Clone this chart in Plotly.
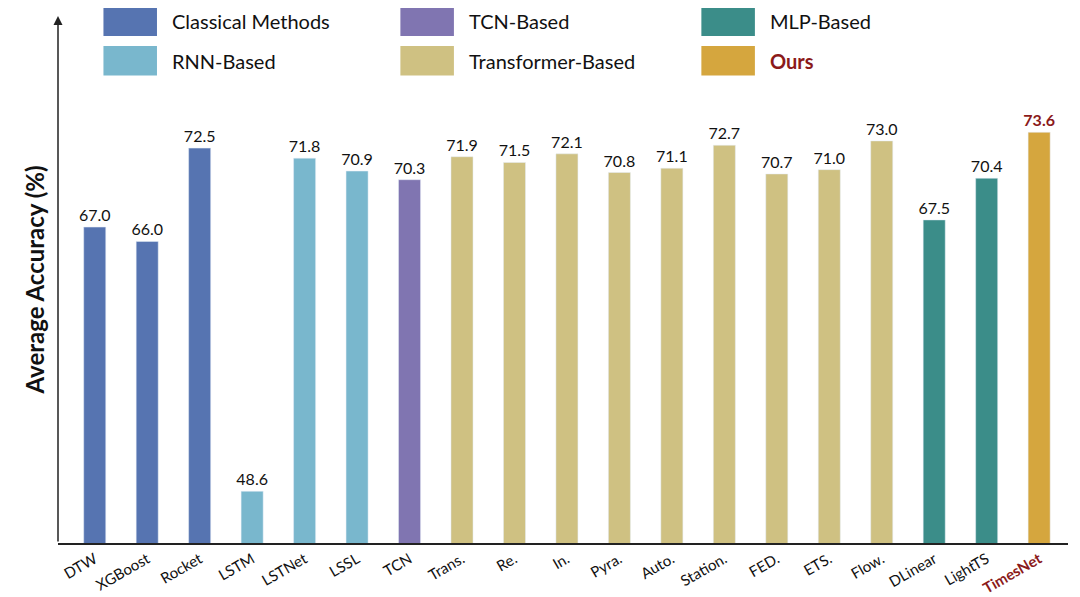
import plotly.graph_objects as go

models = ["DTW", "XGBoost", "Rocket", "LSTM", "LSTNet", "LSSL", "TCN", "Trans.", "Re.", "In.",
          "Pyra.", "Auto.", "Station.", "FED.", "ETS.", "Flow.", "DLinear", "LightTS", "TimesNet"]
accuracy = [67.0, 66.0, 72.5, 48.6, 71.8, 70.9, 70.3, 71.9, 71.5, 72.1,
            70.8, 71.1, 72.7, 70.7, 71.0, 73.0, 67.5, 70.4, 73.6]
groups = ["Classical Methods"] * 3 + ["RNN-Based"] * 3 + ["TCN-Based"] + ["Transformer-Based"] * 9 + ["MLP-Based"] * 2 + ["Ours"]

colors = {"Classical Methods": "#5674b1", "RNN-Based": "#79b7cd", "TCN-Based": "#8075b1",
          "Transformer-Based": "#cfc182", "MLP-Based": "#3b8d89", "Ours": "#d5a63e"}

labels = [f"{v:.1f}" for v in accuracy]
labels[-1] = f"<b>{labels[-1]}</b>"

fig = go.Figure()
fig.add_bar(x=list(range(len(models))), y=accuracy, width=0.42,
            marker_color=[colors[g] for g in groups],
            text=labels, textposition="outside", constraintext="none",
            textfont=dict(size=16, color=["#111"] * 18 + ["#8b1a1a"]),
            cliponaxis=False)

ticktext = models[:-1] + ["<b><span style='color:#8b1a1a'>TimesNet</span></b>"]

# legend drawn as boxes + text
legend_pos = [("Classical Methods", 0.045, 0.99), ("RNN-Based", 0.045, 0.915),
              ("TCN-Based", 0.339, 0.99), ("Transformer-Based", 0.339, 0.915),
              ("MLP-Based", 0.637, 0.99), ("Ours", 0.637, 0.915)]
for name, x, y in legend_pos:
    fig.add_shape(type="rect", xref="paper", yref="paper", x0=x, x1=x + 0.053,
                  y0=y - 0.028, y1=y + 0.028, fillcolor=colors[name], line_width=0)
    bold = name == "Ours"
    fig.add_annotation(xref="paper", yref="paper", x=x + 0.066, y=y, xanchor="left", yanchor="middle",
                       text=f"<b>{name}</b>" if bold else name, showarrow=False,
                       font=dict(size=20, color="#8b1a1a" if bold else "#111"))

# y axis arrow
fig.add_annotation(xref="x domain", yref="y domain", x=0, y=1.0, ax=0, ay=0.0,
                   axref="x domain", ayref="y domain",
                   showarrow=True, arrowhead=2, arrowsize=1.2, arrowwidth=1.5, arrowcolor="#222", text="")

fig.update_layout(
    width=1080, height=597, plot_bgcolor="white", paper_bgcolor="white",
    margin=dict(l=50, r=20, t=8, b=57), showlegend=False,
    font=dict(family="Lato, Open Sans, sans-serif", color="#111"),
    xaxis=dict(tickvals=list(range(len(models))), ticktext=ticktext, tickangle=-30,
               tickfont=dict(size=15), range=[-0.7, len(models) - 0.45],
               showline=True, linecolor="#222", linewidth=1.5, ticks=""),
    yaxis=dict(range=[45, 81.7], showticklabels=False, showgrid=False, zeroline=False,
               title=dict(text="<b>Average Accuracy (%)</b>", font=dict(size=24), standoff=5)),
)
fig.write_html("out.html")
